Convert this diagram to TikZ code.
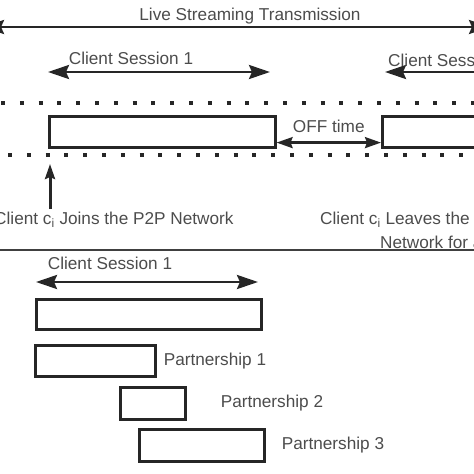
\documentclass[tikz,border=0pt]{standalone}
\usepackage{fontspec}
\setmainfont{Liberation Sans}
\usetikzlibrary{arrows.meta,positioning}
\tikzset{period/.style={draw=black!85, line width=2.6pt, minimum height=31pt, inner sep=0pt, anchor=north west}}
\tikzset{dur/.style={line width=2.8pt, draw=black!85, {Stealth[length=21pt,width=14pt,inset=3pt]}-{Stealth[length=21pt,width=14pt,inset=3pt]}}}
\tikzset{gap/.style={line width=2.4pt, draw=black!85, {Stealth[length=16pt,width=11pt,inset=2pt]}-{Stealth[length=16pt,width=11pt,inset=2pt]}}}
\tikzset{lbl/.style={text=black!70, font=\fontsize{17.2}{24}\selectfont, inner sep=0pt}}
\tikzset{dots/.style={line width=4pt, draw=black!85, dash pattern=on 4pt off 14.8pt}}

\begin{document}
\begin{tikzpicture}[x=1pt,y=-1pt]
\useasboundingbox (0,0) rectangle (474,474);
\clip (0,0) rectangle (474,474);

% whole transmission
\coordinate (live0) at (-17,27);
\coordinate (live1) at (490,27);
\draw[dur] (live0) -- (live1);
\node[lbl] (livelbl) at (250,16) {Live Streaming Transmission};

% sessions on the time line
\coordinate (cs1a) at (48,72);
\coordinate (cs1b) at (270,72);
\draw[dur] (cs1a) -- (cs1b);
\node[lbl] (cs1lbl) at (131,58) {Client Session 1};
\coordinate (cs2a) at (385,72);
\coordinate (cs2b) at (520,72);
\draw[dur] (cs2a) -- (cs2b);
\node[lbl, anchor=west] (cs2lbl) at (388,60) {Client Session 2};

\draw[dots] (1,103) -- (480,103);
\draw[dots] (8,155) -- (480,155);

\node[period, minimum width=226pt] (sess1) at (48,115) {};
\node[period, minimum width=130pt] (sess2) at (381,115) {};
\draw[gap] ([yshift=6pt]sess1.south east) -- ([yshift=6pt]sess2.south west)
  node[lbl, midway, above=9pt] (offlbl) {OFF time};

% join / leave
\node[lbl, anchor=west] (joinlbl) at (-6,220) {Client c\textsubscript{i} Joins the P2P Network};
\coordinate (join0) at (50,209);
\coordinate (join1) at (50,164);
\draw[line width=3pt, draw=black!85, -{Stealth[length=15pt,width=10pt,inset=2pt]}] (join0) -- (join1);
\node[lbl, anchor=west] (leavelbl) at (320,220) {Client c\textsubscript{i} Leaves the P2P};
\node[lbl, anchor=west] (leavelbl2) at (380,242) {Network for a while};

\draw[line width=1.3pt, draw=black!75] (0,250) -- (474,250);

% partnerships within one session
\node[lbl] (sesslbl) at (110,263) {Client Session 1};
\coordinate (sa) at (36,282);
\coordinate (sb) at (258,282);
\draw[dur] (sa) -- (sb);
\node[period, minimum width=225pt, minimum height=30pt] (whole) at (35,298) {};
\node[period, minimum width=120pt] (part1) at (34,344) {};
\node[period, minimum width=65pt, minimum height=32pt] (part2) at (119,386) {};
\node[period, minimum width=125pt, minimum height=32pt] (part3) at (138,428) {};
\node[lbl, right=7pt of part1] (p1lbl) {Partnership 1};
\node[lbl, right=34pt of part2] (p2lbl) {Partnership 2};
\node[lbl, right=16pt of part3] (p3lbl) {Partnership 3};
\end{tikzpicture}
\end{document}
